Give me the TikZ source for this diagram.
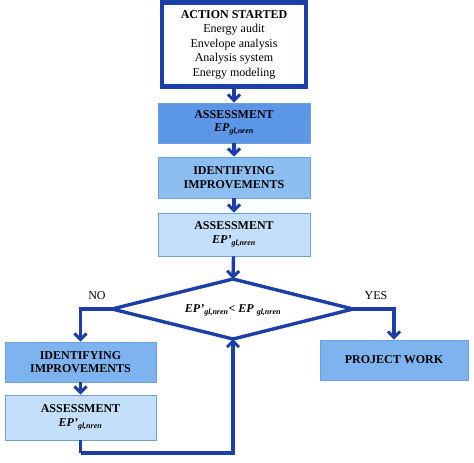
\documentclass[tikz,border=0pt]{standalone}
\usepackage{fontspec}
\setmainfont{Liberation Serif}
\usetikzlibrary{arrows.meta}
\definecolor{dk}{RGB}{28,62,168}
\definecolor{edge}{RGB}{110,160,220}
\definecolor{fA}{RGB}{92,150,230}
\definecolor{fB}{RGB}{140,190,242}
\definecolor{fC}{RGB}{196,223,250}
\definecolor{fD}{RGB}{125,180,240}
\newcommand{\sub}[1]{\textsubscript{\textbf{\textit{#1}}}}
\tikzset{
  boxA/.style={draw=edge, line width=0.8pt, align=center, font=\bfseries\fontsize{12}{13.5}\selectfont, inner sep=0pt},
  flow/.style={draw=dk, line width=3.4pt, -{Straight Barb[length=6pt,width=12pt,line width=3pt]}},
  plain/.style={draw=dk, line width=3.4pt},
  lbl/.style={font=\fontsize{12}{13}\selectfont}
}
\begin{document}
\begin{tikzpicture}[x=1pt,y=-1pt]
\useasboundingbox (0,0) rectangle (474,463);
\node[draw=dk, line width=4.5pt, fill=white, minimum width=144pt, minimum height=84pt, inner sep=0pt, align=center, font=\fontsize{12}{14.5}\selectfont] (top) at (234,44.5)
  {\textbf{ACTION STARTED}\\Energy audit\\Envelope analysis\\Analysis system\\Energy modeling};
\node[boxA, fill=fA, minimum width=152pt, minimum height=40pt] (a1) at (234,123)
  {ASSESSMENT\\\textit{EP}\sub{gl,nren}};
\node[boxA, fill=fB, minimum width=152pt, minimum height=41pt] (i1) at (234,177.5)
  {IDENTIFYING\\IMPROVEMENTS};
\node[boxA, fill=fC, minimum width=152pt, minimum height=43pt] (a2) at (234,234.5)
  {ASSESSMENT\\\textit{EP’}\sub{gl,nren}};
\coordinate (dn) at (233,279);
\coordinate (ds) at (233,339);
\coordinate (dw) at (112,309);
\coordinate (de) at (353,309);
\draw[draw=dk, line width=3.4pt, line join=miter] (dn) -- (de) -- (ds) -- (dw) -- cycle;
\node[font=\bfseries\itshape\fontsize{12}{13}\selectfont, inner sep=0pt] (d) at (233,310)
  {EP’\sub{gl,nren}< EP \sub{gl,nren}};
\node[boxA, fill=fD, minimum width=151pt, minimum height=40pt] (i2) at (80.5,362)
  {IDENTIFYING\\IMPROVEMENTS};
\node[boxA, fill=fC, minimum width=151pt, minimum height=45pt] (a3) at (80.5,417.5)
  {ASSESSMENT\\\textit{EP’}\sub{gl,nren}};
\node[boxA, fill=fD, minimum width=148pt, minimum height=40pt] (pw) at (394,360)
  {PROJECT WORK};
\node[lbl] (no) at (97,296) {NO};
\node[lbl] (yes) at (376,296) {YES};
\coordinate (bl) at (80.5,453);
\draw[flow] (top) -- (a1);
\draw[flow] (a1) -- (i1);
\draw[flow] (i1) -- (a2);
\draw[flow] (a2) -- (dn);
\draw[flow] (dw) -| (i2.north);
\draw[flow] (i2) -- (a3);
\draw[flow] (de) -| (pw.north);
\draw[plain] (a3.south) -- (bl);
\draw[flow] (bl) -| (ds);
\end{tikzpicture}
\end{document}
